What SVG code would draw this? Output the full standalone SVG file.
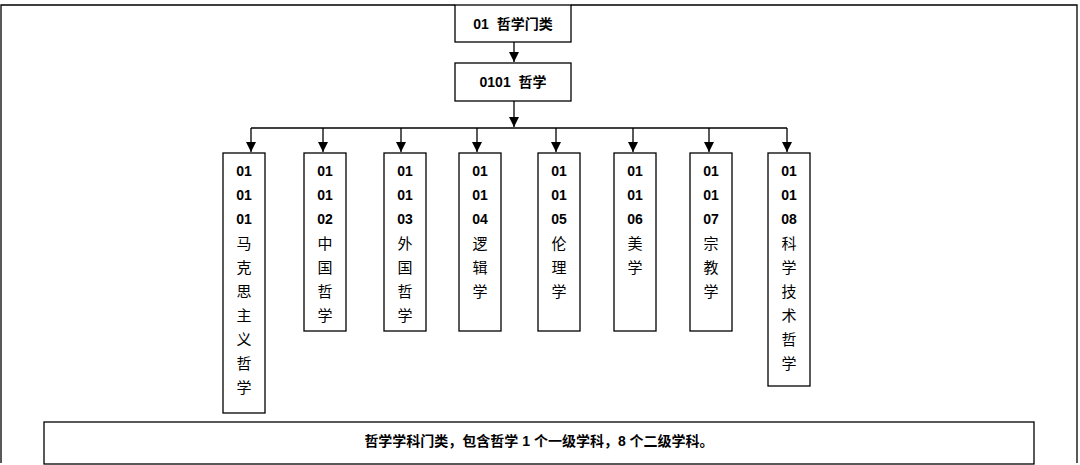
<svg xmlns="http://www.w3.org/2000/svg" width="1080" height="465" viewBox="0 0 1080 465">
<defs><marker id="ar" markerWidth="10" markerHeight="10" refX="10" refY="5" orient="auto" markerUnits="userSpaceOnUse" viewBox="0 0 10 10"><path d="M0,0 L10,5 L0,10 z" fill="#000"/></marker></defs>
<style>
rect{fill:#fff;stroke:#000;stroke-width:1.3}
.n{font-family:"Liberation Sans","Noto Sans CJK SC",sans-serif;font-weight:bold;font-size:14px;text-anchor:middle;white-space:pre}
.c{font-family:"Noto Sans CJK SC",sans-serif;font-size:15px;text-anchor:middle}
.l{stroke:#000;stroke-width:1.3;fill:none}
</style>
<path class="l" d="M1,463 V5 H455 M571,5 H1077 V463"/>
<g id="n0"><rect x="455" y="5" width="116" height="37"/><text class="n" x="513" y="29" xml:space="preserve">01  哲学门类</text></g>
<g id="n1"><rect x="455" y="63" width="116" height="38"/><text class="n" x="513" y="87" xml:space="preserve">0101  哲学</text></g>
<g id="conn">
<path class="l" d="M514,42 V62" marker-end="url(#ar)"/>
<path class="l" d="M514,101 V127" marker-end="url(#ar)"/>
<path class="l" d="M251,128 H787"/>
<path class="l" d="M251,128 V152" marker-end="url(#ar)"/>
<path class="l" d="M323,128 V152" marker-end="url(#ar)"/>
<path class="l" d="M401,128 V152" marker-end="url(#ar)"/>
<path class="l" d="M477,128 V152" marker-end="url(#ar)"/>
<path class="l" d="M556,128 V152" marker-end="url(#ar)"/>
<path class="l" d="M633,128 V152" marker-end="url(#ar)"/>
<path class="l" d="M709,128 V152" marker-end="url(#ar)"/>
<path class="l" d="M787,128 V152" marker-end="url(#ar)"/>
</g>
<g id="b1"><rect x="223" y="153" width="42" height="260"/><text class="n" x="244" y="176">01</text><text class="n" x="244" y="200">01</text><text class="n" x="244" y="224">01</text><text class="c" x="244" y="249">马</text><text class="c" x="244" y="273">克</text><text class="c" x="244" y="297">思</text><text class="c" x="244" y="321">主</text><text class="c" x="244" y="345">义</text><text class="c" x="244" y="369">哲</text><text class="c" x="244" y="393">学</text></g>
<g id="b2"><rect x="304" y="153" width="42" height="178"/><text class="n" x="325" y="176">01</text><text class="n" x="325" y="200">01</text><text class="n" x="325" y="224">02</text><text class="c" x="325" y="249">中</text><text class="c" x="325" y="273">国</text><text class="c" x="325" y="297">哲</text><text class="c" x="325" y="321">学</text></g>
<g id="b3"><rect x="384" y="153" width="42" height="178"/><text class="n" x="405" y="176">01</text><text class="n" x="405" y="200">01</text><text class="n" x="405" y="224">03</text><text class="c" x="405" y="249">外</text><text class="c" x="405" y="273">国</text><text class="c" x="405" y="297">哲</text><text class="c" x="405" y="321">学</text></g>
<g id="b4"><rect x="459" y="153" width="42" height="178"/><text class="n" x="480" y="176">01</text><text class="n" x="480" y="200">01</text><text class="n" x="480" y="224">04</text><text class="c" x="480" y="249">逻</text><text class="c" x="480" y="273">辑</text><text class="c" x="480" y="297">学</text></g>
<g id="b5"><rect x="538" y="153" width="42" height="178"/><text class="n" x="559" y="176">01</text><text class="n" x="559" y="200">01</text><text class="n" x="559" y="224">05</text><text class="c" x="559" y="249">伦</text><text class="c" x="559" y="273">理</text><text class="c" x="559" y="297">学</text></g>
<g id="b6"><rect x="614" y="153" width="42" height="178"/><text class="n" x="635" y="176">01</text><text class="n" x="635" y="200">01</text><text class="n" x="635" y="224">06</text><text class="c" x="635" y="249">美</text><text class="c" x="635" y="273">学</text></g>
<g id="b7"><rect x="690" y="153" width="42" height="178"/><text class="n" x="711" y="176">01</text><text class="n" x="711" y="200">01</text><text class="n" x="711" y="224">07</text><text class="c" x="711" y="249">宗</text><text class="c" x="711" y="273">教</text><text class="c" x="711" y="297">学</text></g>
<g id="b8"><rect x="768" y="153" width="42" height="233"/><text class="n" x="789" y="176">01</text><text class="n" x="789" y="200">01</text><text class="n" x="789" y="224">08</text><text class="c" x="789" y="249">科</text><text class="c" x="789" y="273">学</text><text class="c" x="789" y="297">技</text><text class="c" x="789" y="321">术</text><text class="c" x="789" y="345">哲</text><text class="c" x="789" y="369">学</text></g>
<g id="note"><rect x="44" y="422" width="990" height="42"/><text class="n" x="539" y="446">哲学学科门类，包含哲学 1 个一级学科，8 个二级学科。</text></g>
</svg>
